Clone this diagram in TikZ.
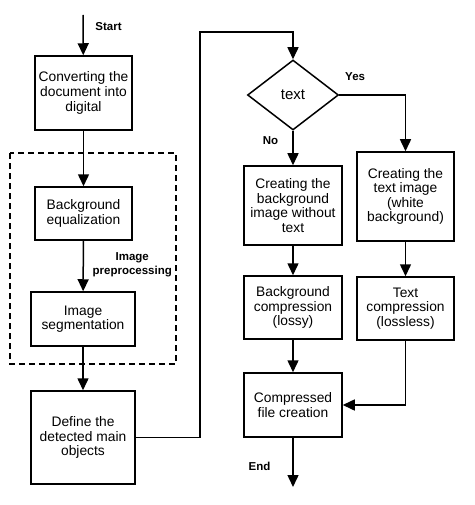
\documentclass[tikz,border=0pt]{standalone}
\usepackage{fontspec}
\setmainfont{Liberation Sans}
\usetikzlibrary{shapes.geometric,arrows.meta}

\begin{document}
\begin{tikzpicture}[x=1pt, y=-1pt, line width=1.5pt, >={Triangle[length=12pt,width=11pt]},
  proc/.style={draw, rectangle, align=center, inner sep=0pt, font=\fontsize{13.8}{14.6}\selectfont},
  lbl/.style={font=\bfseries\fontsize{11.5}{14}\selectfont, align=center, inner sep=0pt}]
  \useasboundingbox (0,0) rectangle (474,505);

  % Left column
  \coordinate (start) at (83,15);
  \node [proc, minimum width=97pt, minimum height=74pt] (conv) at (83.5,93) {Converting the\\document into\\digital};
  \node [proc, minimum width=97pt, minimum height=53pt] (equal) at (83.5,213.5) {Background\\equalization};
  \node [proc, minimum width=104pt, minimum height=54pt] (segm) at (83,319) {Image\\segmentation};
  \node [proc, minimum width=104pt, minimum height=93pt] (objs) at (83,437.5) {Define the\\detected main\\objects};
  \draw [dashed, dash pattern=on 6pt off 4pt, line width=1.2pt] (10,153) rectangle (176,364);

  % Decision and right columns
  \coordinate (turn) at (200,32);
  \node [draw, diamond, minimum width=91pt, minimum height=70pt, inner sep=0pt, font=\fontsize{15}{16}\selectfont] (dec) at (293,95) {text};
  \node [proc, minimum width=98pt, minimum height=79pt] (bgimg) at (293,205.5) {Creating the\\background\\image without\\text};
  \node [proc, minimum width=97pt, minimum height=89pt] (txtimg) at (405.5,196.5) {Creating the\\text image\\(white\\background)};
  \node [proc, minimum width=98pt, minimum height=63pt] (bgcomp) at (293,307.5) {Background\\compression\\(lossy)};
  \node [proc, minimum width=97pt, minimum height=63pt] (txtcomp) at (405.5,308.5) {Text\\compression\\(lossless)};
  \node [proc, minimum width=98pt, minimum height=64pt] (file) at (293,405) {Compressed\\file creation};
  \coordinate (end) at (293,487);

  % Arrows
  \draw [->] (start) -- node[lbl, pos=0.29, xshift=25.5pt] {Start} (conv);
  \draw [->] (conv) -- (equal);
  \draw [->] (equal) -- node[lbl, pos=0.48, xshift=49pt] {Image\\preprocessing} (segm);
  \draw [->] (segm) -- (objs);
  \draw [->] (objs.east) -| (turn) -| (dec.north);
  \draw [->] (dec.east) -| node[lbl, pos=0.12, yshift=18pt] {Yes} (txtimg.north);
  \draw [->] (dec.south) -- node[lbl, pos=0.28, xshift=-22.5pt] {No} (bgimg.north);
  \draw [->] (bgimg) -- (bgcomp);
  \draw [->] (txtimg) -- (txtcomp);
  \draw [->] (bgcomp) -- (file);
  \draw [->] (txtcomp.south) |- (file.east);
  \draw [->] (file) -- node[lbl, pos=0.58, xshift=-33.5pt] {End} (end);
\end{tikzpicture}
\end{document}
